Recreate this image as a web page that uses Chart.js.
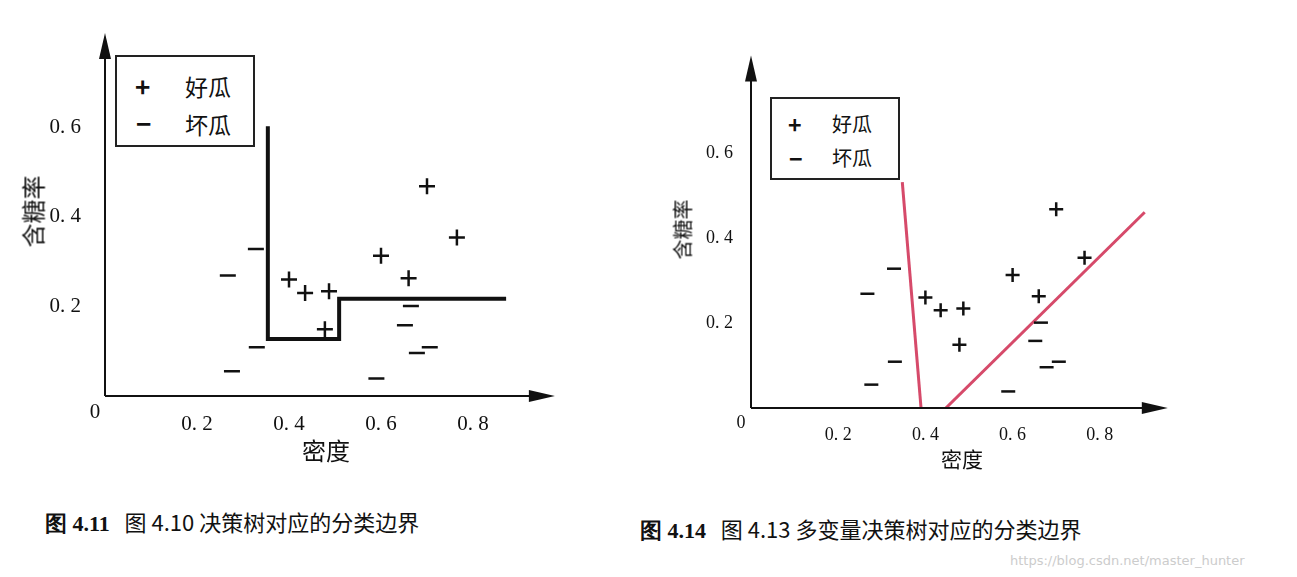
<!DOCTYPE html>
<html>
<head>
<meta charset="utf-8">
<script src="https://cdn.jsdelivr.net/npm/chart.js@4"></script>
<style>
  body { margin: 0; width: 1297px; height: 577px; background: #fff; position: relative; overflow: hidden;
         font-family: "Noto Sans CJK SC", "Liberation Serif", serif; color: #111; }
  .box { position: absolute; }
  .lab { position: absolute; white-space: nowrap; }
  .legend { position: absolute; border: 2px solid #222; background: #fff; }
  .legend div { position: absolute; white-space: nowrap; }
  .cap b { font-family: "Liberation Serif", serif; }
</style>
</head>
<body>
<div class="box" style="left:0;top:0;width:600px;height:480px"><canvas id="c1"></canvas></div>
<div class="box" style="left:640px;top:0;width:640px;height:480px"><canvas id="c2"></canvas></div>

<div class="legend" style="left:115px;top:55px;width:136px;height:88px;font-size:23px">
  <div style="left:18px;top:10px;font-size:26px;font-weight:bold">+</div><div style="left:68px;top:12px">好瓜</div>
  <div style="left:19px;top:47px;font-size:26px;font-weight:bold">−</div><div style="left:68px;top:50px">坏瓜</div>
</div>
<div class="legend" style="left:770px;top:97px;width:126px;height:79px;font-size:20px">
  <div style="left:16px;top:8px;font-size:23px;font-weight:bold">+</div><div style="left:60px;top:10px">好瓜</div>
  <div style="left:17px;top:42px;font-size:23px;font-weight:bold">−</div><div style="left:60px;top:44px">坏瓜</div>
</div>

<div class="lab" style="left:302px;top:432px;font-size:24px">密度</div>
<div class="lab" style="left:-4px;top:194px;font-size:24px;transform:rotate(-90deg)">含糖率</div>
<div class="lab" style="left:941px;top:443px;font-size:21px">密度</div>
<div class="lab" style="left:652px;top:215px;font-size:20px;transform:rotate(-90deg)">含糖率</div>

<div class="lab cap" style="left:45px;top:505px;font-size:22px"><b>图 4.11</b>&nbsp;&nbsp;&nbsp;图 4.10 决策树对应的分类边界</div>
<div class="lab cap" style="left:640px;top:512px;font-size:22px"><b>图 4.14</b>&nbsp;&nbsp;&nbsp;图 4.13 多变量决策树对应的分类边界</div>
<div class="lab" style="left:1010px;top:553px;font-size:13px;color:#ccc;font-family:'DejaVu Sans'">https://blog.csdn.net/master_hunter</div>

<script>
// 好瓜 / 坏瓜 样本（密度, 含糖率）
const goodX = [0.700, 0.765, 0.600, 0.660, 0.400, 0.435, 0.487, 0.478];
const goodY = [0.468, 0.354, 0.313, 0.263, 0.260, 0.230, 0.234, 0.149];
const badX  = [0.267, 0.328, 0.276, 0.330, 0.652, 0.665, 0.590, 0.678, 0.706];
const badY  = [0.269, 0.328, 0.055, 0.109, 0.158, 0.201, 0.039, 0.096, 0.109];

// 决策树边界（阶梯）
const treeX = [0.354, 0.354, 0.509, 0.509, 0.872];
const treeY = [0.602, 0.127, 0.127, 0.217, 0.217];

// 多变量决策树边界（两条斜线）
const line1X = [0.347, 0.390];
const line1Y = [0.532, 0.000];
const line2X = [0.447, 0.903];
const line2Y = [0.000, 0.461];

const xTicks = [0.2, 0.4, 0.6, 0.8];
const yTicks = [0.2, 0.4, 0.6];

const pts = (xs, ys) => xs.map((x, i) => ({ x, y: ys[i] }));

const arrowAxes = {
  id: 'arrowAxes',
  afterDraw(chart, args, o) {
    const { ctx, scales: { x, y } } = chart;
    const x0 = x.getPixelForValue(0), y0 = y.getPixelForValue(0);
    const xe = x.getPixelForValue(o.xEnd), ye = y.getPixelForValue(o.yEnd);
    ctx.save();
    ctx.strokeStyle = '#111'; ctx.fillStyle = '#111'; ctx.lineWidth = 2;
    ctx.beginPath(); ctx.moveTo(x0, y0); ctx.lineTo(xe - 10, y0); ctx.moveTo(x0, y0); ctx.lineTo(x0, ye + 10); ctx.stroke();
    ctx.beginPath(); ctx.moveTo(xe, y0); ctx.lineTo(xe - 26, y0 - 6); ctx.lineTo(xe - 26, y0 + 6); ctx.closePath(); ctx.fill();
    ctx.beginPath(); ctx.moveTo(x0, ye); ctx.lineTo(x0 - 6, ye + 26); ctx.lineTo(x0 + 6, ye + 26); ctx.closePath(); ctx.fill();
    ctx.font = o.font; ctx.textAlign = 'center'; ctx.textBaseline = 'top';
    ctx.fillText('0', x0 - 10, y0 + 6);
    ctx.restore();
  }
};

function makeChart(id, boundary, opt) {
  const datasets = [
    { data: pts(goodX, goodY), pointStyle: 'cross', pointRadius: opt.r, borderColor: '#111', borderWidth: 2.5, showLine: false },
    { data: pts(badX, badY), pointStyle: 'line', pointRadius: opt.r, borderColor: '#111', borderWidth: 2.5, showLine: false },
    ...boundary.map((b) => ({ data: pts(b.xs, b.ys), showLine: true, pointRadius: 0, borderColor: opt.lineColor, borderWidth: opt.lineWidth, fill: false }))
  ];
  const tickFont = { family: 'Liberation Serif', size: opt.fs };
  return new Chart(document.getElementById(id), {
    type: 'scatter',
    data: { datasets },
    options: {
      responsive: false, animation: false,
      layout: { padding: { top: opt.top, right: opt.right, left: 0, bottom: 0 } },
      plugins: { legend: { display: false }, tooltip: { enabled: false },
                 arrowAxes: { xEnd: opt.xEnd, yEnd: opt.yEnd, font: opt.fs + 'px Liberation Serif' } },
      scales: {
        x: { min: 0, max: 1.0, grid: { display: false }, border: { display: false },
             afterBuildTicks: (s) => { s.ticks = xTicks.map((v) => ({ value: v })); },
             afterFit: (s) => { s.height = opt.bottom; },
             ticks: { color: '#111', font: tickFont, padding: 8, maxRotation: 0, callback: (v) => v.toFixed(1).replace('.', '. ') } },
        y: { min: 0, max: opt.yMax, grid: { display: false }, border: { display: false },
             afterBuildTicks: (s) => { s.ticks = yTicks.map((v) => ({ value: v })); },
             afterFit: (s) => { s.width = opt.left; },
             ticks: { color: '#111', font: tickFont, padding: opt.ypad, callback: (v) => v.toFixed(1).replace('.', '. ') } }
      }
    },
    plugins: [arrowAxes]
  });
}

const c1 = document.getElementById('c1'); c1.width = 600; c1.height = 480;
const c2 = document.getElementById('c2'); c2.width = 640; c2.height = 480;

makeChart('c1', [{ xs: treeX, ys: treeY }],
  { left: 105, right: 35, top: 21, bottom: 84, yMax: 0.82, xEnd: 0.978, yEnd: 0.81, fs: 21, ypad: 16, r: 8, lineColor: '#111', lineWidth: 4 });
makeChart('c2', [{ xs: line1X, ys: line1Y }, { xs: line2X, ys: line2Y }],
  { left: 111, right: 93, top: 47, bottom: 72, yMax: 0.85, xEnd: 0.956, yEnd: 0.83, fs: 18, ypad: 10, r: 7, lineColor: '#d64a6a', lineWidth: 3 });
</script>
</body>
</html>
